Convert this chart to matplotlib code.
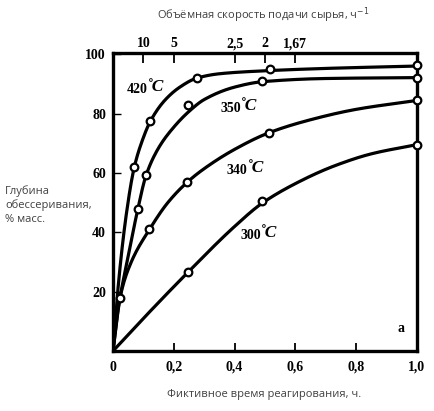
import numpy as np
import matplotlib
matplotlib.use("Agg")
import matplotlib.pyplot as plt

# ---- data ----
# measured points (fictive reaction time, h ; desulfurization depth, % mass)
t420 = [0.07, 0.123, 0.275, 0.517, 1.0]
y420 = [62.0, 77.5, 92.0, 95.0, 96.3]
t350 = [0.082, 0.108, 0.246, 0.49, 1.0]
y350 = [48.0, 59.5, 82.8, 91.0, 92.2]
t340 = [0.023, 0.12, 0.245, 0.513, 1.0]
y340 = [18.0, 41.0, 57.0, 73.6, 84.5]
t300 = [0.248, 0.49, 1.0]
y300 = [26.7, 50.7, 69.6]

# smooth fitted curves
c420_x = [0, 0.02, 0.045, 0.07, 0.1, 0.123, 0.17, 0.22, 0.275, 0.35, 0.5, 0.7, 1.0]
c420_y = [0, 25, 47, 62, 72, 77.5, 84.5, 89, 92, 93.5, 94.5, 95.3, 96.1]
c350_x = [0, 0.02, 0.05, 0.082, 0.108, 0.15, 0.2, 0.25, 0.3, 0.4, 0.49, 0.7, 1.0]
c350_y = [0, 16, 32, 48, 59, 68.5, 75.5, 80.8, 84.8, 89, 90.8, 91.9, 92.2]
c340_x = [0, 0.023, 0.06, 0.12, 0.18, 0.245, 0.3, 0.4, 0.513, 0.65, 0.8, 1.0]
c340_y = [0, 18, 30, 41, 50, 57, 61.5, 68, 73.6, 78, 81.5, 84.5]
c300_x = [0, 0.1, 0.248, 0.4, 0.49, 0.62, 0.73, 0.85, 1.0]
c300_y = [0, 11, 26.7, 42, 49.8, 57.5, 62.5, 66.5, 69.6]

series_labels = ["420", "350", "340", "300"]

x_ticks = [0, 0.2, 0.4, 0.6, 0.8, 1.0]
x_ticklabels = ["0", "0,2", "0,4", "0,6", "0,8", "1,0"]
y_ticks = [20, 40, 60, 80, 100]
y_ticklabels = ["20", "40", "60", "80", "100"]
top_ticks = [0.1, 0.2, 0.4, 0.5, 0.6]
top_ticklabels = ["10", "5", "2,5", "2", "1,67"]

xlabel = "Фиктивное время реагирования, ч."
toplabel = "Объёмная скорость подачи сырья, ч$^{-1}$"
ylabel = "Глубина\nобессеривания,\n% масс."


def pchip(x, y, n=300):
    x = np.asarray(x, float)
    y = np.asarray(y, float)
    h = np.diff(x)
    d = np.diff(y) / h
    m = np.zeros_like(y)
    for k in range(1, len(x) - 1):
        if d[k - 1] * d[k] > 0:
            w1 = 2 * h[k] + h[k - 1]
            w2 = h[k] + 2 * h[k - 1]
            m[k] = (w1 + w2) / (w1 / d[k - 1] + w2 / d[k])
    m[0] = d[0]
    m[-1] = d[-1]
    xs = np.linspace(x[0], x[-1], n)
    idx = np.clip(np.searchsorted(x, xs) - 1, 0, len(x) - 2)
    t = (xs - x[idx]) / h[idx]
    h00 = 2 * t**3 - 3 * t**2 + 1
    h10 = t**3 - 2 * t**2 + t
    h01 = -2 * t**3 + 3 * t**2
    h11 = t**3 - t**2
    ys = h00 * y[idx] + h10 * h[idx] * m[idx] + h01 * y[idx + 1] + h11 * h[idx] * m[idx + 1]
    return xs, ys


fig = plt.figure(figsize=(4.35, 4.11), dpi=100)
ax = fig.add_axes([113 / 435, 1 - 351 / 411, (417 - 113) / 435, (351 - 53) / 411])

lw = 2.3
for cx, cy in [(c420_x, c420_y), (c350_x, c350_y), (c340_x, c340_y), (c300_x, c300_y)]:
    xs, ys = pchip(cx, cy)
    ax.plot(xs, ys, color="black", lw=lw, solid_capstyle="round", zorder=2)

for tx, ty in [(t420, y420), (t350, y350), (t340, y340), (t300, y300)]:
    ax.plot(tx, ty, "o", ms=5.5, mfc="white", mec="black", mew=1.6, clip_on=False, zorder=3)

ax.set_xlim(0, 1.0)
ax.set_ylim(0, 100.5)

for s in ax.spines.values():
    s.set_linewidth(2.4)

serif = "Liberation Serif"
ax.set_xticks(x_ticks)
ax.set_xticklabels(x_ticklabels, fontfamily=serif, fontweight="bold", fontsize=10)
ax.set_yticks(y_ticks)
ax.set_yticklabels(y_ticklabels, fontfamily=serif, fontweight="bold", fontsize=10)
ax.tick_params(axis="x", direction="in", length=6, width=1.3, pad=7)
ax.tick_params(axis="y", direction="in", length=6, width=1.0, pad=5)

ax2 = ax.twiny()
ax2.set_xlim(ax.get_xlim())
ax2.set_xticks(top_ticks)
ax2.set_xticklabels(top_ticklabels, fontfamily=serif, fontweight="bold", fontsize=10)
ax2.tick_params(axis="x", direction="in", length=7, width=1.3, pad=2)
for s in ax2.spines.values():
    s.set_visible(False)

# curve labels
lab_pos = {"420": (0.046, 88.3), "350": (0.352, 81.7), "340": (0.375, 60.9), "300": (0.418, 39.0)}
for name in series_labels:
    x0, y0 = lab_pos[name]
    ax.text(x0, y0, name, fontfamily=serif, fontweight="bold", fontsize=10, va="center", ha="left")
    ax.text(x0 + 0.066, y0 + 0.8, "˚C", fontfamily=serif, fontweight="bold", fontstyle="italic",
            fontsize=12.5, va="center", ha="left")
ax.text(0.935, 7.5, "a", fontfamily=serif, fontweight="bold", fontsize=10, va="center", ha="left")

gray = "#404040"
fig.text(264 / 435, 1 - 394 / 411, xlabel, fontfamily="Open Sans", fontsize=8.0, color=gray,
         ha="center", va="center")
fig.text(263 / 435, 1 - 15 / 411, toplabel, fontfamily="Open Sans", fontsize=8.0, color=gray,
         ha="center", va="center")
fig.text(5 / 435, 1 - 205 / 411, ylabel, fontfamily="Open Sans", fontsize=8.0, color=gray,
         ha="left", va="center", linespacing=1.3)

fig.savefig("out.png", dpi=100)
